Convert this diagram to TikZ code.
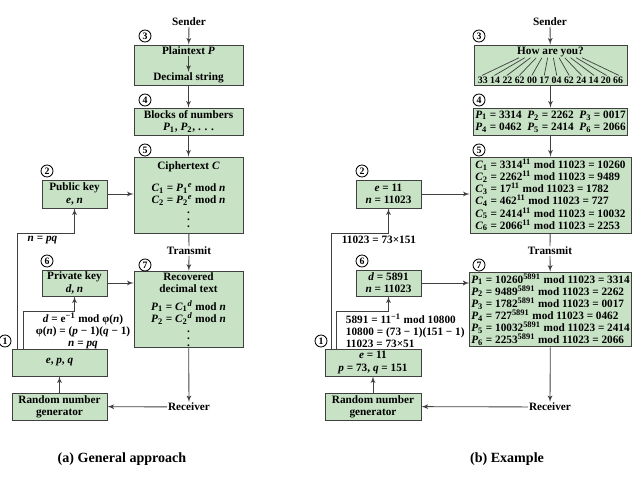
\documentclass[tikz,border=0pt]{standalone}
\usepackage{fontspec}
\setmainfont{Liberation Serif}
\usetikzlibrary{arrows, positioning, calc}
\definecolor{keygreen}{RGB}{199,226,197}
\definecolor{edge}{RGB}{64,64,64}
\newcommand{\vb}[1]{\textit{#1}}
\newcommand{\ix}[1]{\textsubscript{#1}}
\newcommand{\px}[1]{\textsuperscript{#1}}
\newcommand{\dotcol}{\vtop{\baselineskip=5pt\lineskiplimit=0pt\hbox{.}\hbox{.}\hbox{.}}}

\begin{document}
\begin{tikzpicture}[font=\fontsize{8}{8.6}\selectfont\bfseries]
\tikzstyle{block} = [rectangle, draw=edge, line width=0.7pt, fill=keygreen, text=black,
    align=center, inner sep=1pt]
\tikzstyle{line} = [draw=edge, line width=0.6pt, -latex']
\tikzstyle{num} = [circle, draw=black, line width=0.6pt, inner sep=0pt, minimum size=0.3cm,
    font=\fontsize{7}{7}\selectfont\bfseries]
\tikzstyle{lbl} = [inner sep=0.5pt]
\tikzstyle{caption} = [font=\fontsize{10}{12}\selectfont\bfseries]
\useasboundingbox (0,0) rectangle (15.95,-11.95);

    % (a) general approach
    \node [lbl] (sendA) at (4.725,-0.55) {Sender};
    \node [block, minimum width=2.725cm, minimum height=1cm] (plainA) at (4.7125,-1.625) {};
    \node [lbl, below=1pt of plainA.north] (plainP) {Plaintext \vb{P}};
    \node [lbl, above=1pt of plainA.south] (decA) {Decimal string};
    \node [block, minimum width=2.725cm, minimum height=0.675cm] (blockA) at (4.7125,-3.0375)
        {Blocks of numbers\\\vb{P}\ix{1}, \vb{P}\ix{2}, . . .};
    \node [block, minimum width=2.725cm, minimum height=1.9cm] (cipherA) at (4.7125,-4.875)
        {Ciphertext \vb{C}\\[7pt]\vb{C}\ix{1} = \vb{P}\ix{1}\px{\vb{e}} mod \vb{n}\\
         \vb{C}\ix{2} = \vb{P}\ix{2}\px{\vb{e}} mod \vb{n}\\[-1.6pt]\dotcol};
    \node [lbl] (transA) at (4.725,-6.275) {Transmit};
    \node [block, minimum width=2.725cm, minimum height=1.825cm] (recovA) at (4.7125,-7.7375)
        {Recovered\\decimal text\\[4pt]\vb{P}\ix{1} = \vb{C}\ix{1}\px{\vb{d}} mod \vb{n}\\
         \vb{P}\ix{2} = \vb{C}\ix{2}\px{\vb{d}} mod \vb{n}\\[-1.6pt]\dotcol};
    \node [lbl] (recvA) at (4.725,-10.175) {Receiver};
    \node [block, minimum width=2.375cm, minimum height=0.675cm] (rngA) at (1.4875,-10.1625)
        {Random number\\generator};
    \node [block, minimum width=2.375cm, minimum height=0.675cm] (epqA) at (1.4875,-9.0625)
        {\vb{e}, \vb{p}, \vb{q}};
    \node [block, minimum width=1.625cm, minimum height=0.7cm] (pubA) at (1.8625,-4.85)
        {Public key\\\vb{e}, \vb{n}};
    \node [block, minimum width=1.625cm, minimum height=0.65cm] (privA) at (1.8625,-7.075)
        {Private key\\\vb{d}, \vb{n}};
    \node [lbl] (pqA) at (1.0625,-6.0) {\vb{n} = \vb{pq}};
    \node [lbl, align=center] (phiA) at (2.075,-8.275)
        {\vb{d} = e\px{−1} mod φ(\vb{n})\\φ(\vb{n}) = (\vb{p} − 1)(\vb{q} − 1)\\\vb{n} = \vb{pq}};

    \node [num] at (3.625,-0.9) {3};
    \node [num] at (3.625,-2.5) {4};
    \node [num] at (3.625,-3.75) {5};
    \node [num] at (3.625,-6.625) {7};
    \node [num] at (1.175,-4.275) {2};
    \node [num] at (1.175,-6.525) {6};
    \node [num] at (0.125,-8.525) {1};

    \path [line] (sendA) -- (plainA);
    \path [line] (plainP) -- (decA);
    \path [line] (plainA) -- (blockA);
    \path [line] (blockA) -- (cipherA);
    \draw [edge, line width=0.6pt] (cipherA) -- (transA);
    \path [line] (transA) -- (recovA);
    \path [line] (recovA) -- (recvA);
    \path [line] (recvA) -- (rngA);
    \path [line] (rngA) -- (epqA);
    \path [line] (pubA.east) -- (pubA.east -| cipherA.west);
    \path [line] (privA.east) -- (privA.east -| recovA.west);
    \path [line] ([xshift=0.15cm]epqA.north west) |- ([yshift=-0.625cm]pubA.south) -- (pubA.south);
    \path [line] ([xshift=0.3cm]epqA.north west) |- ([yshift=-0.375cm]privA.south) -- (privA.south);

    % (b) example
    \node [lbl] (sendB) at (13.75,-0.55) {Sender};
    \node [block, minimum width=3.825cm, minimum height=1cm] (plainB) at (13.7625,-1.625) {};
    \node [lbl, below=1pt of plainB.north] (howB) {How are you?};
    \node [lbl, above=1pt of plainB.south, font=\fontsize{7}{7}\selectfont\bfseries] (digB)
        {33 14 22 62 00 17 04 62 24 14 20 66};
    \foreach \i in {0,...,11}
        \draw [edge, line width=0.5pt] ($(howB.south west)!{(\i+0.5)/12}!(howB.south east)$)
            -- ($(digB.north west)!{(\i*1.25+0.5)/14.75}!(digB.north east)$);
    \node [block, minimum width=3.825cm, minimum height=0.675cm] (blockB) at (13.7625,-3.0375)
        {\vb{P}\ix{1} = 3314\enspace\vb{P}\ix{2} = 2262\enspace\vb{P}\ix{3} = 0017\\
         \vb{P}\ix{4} = 0462\enspace\vb{P}\ix{5} = 2414\enspace\vb{P}\ix{6} = 2066};
    \node [block, align=left, minimum width=4.025cm, minimum height=1.9cm] (cipherB) at (13.7625,-4.875)
        {\vb{C}\ix{1} = 3314\px{11} mod 11023 = 10260\\
         \vb{C}\ix{2} = 2262\px{11} mod 11023 = 9489\\
         \vb{C}\ix{3} = 17\px{11} mod 11023 = 1782\\
         \vb{C}\ix{4} = 462\px{11} mod 11023 = 727\\
         \vb{C}\ix{5} = 2414\px{11} mod 11023 = 10032\\
         \vb{C}\ix{6} = 2066\px{11} mod 11023 = 2253};
    \node [lbl] (transB) at (13.75,-6.275) {Transmit};
    \node [block, align=left, minimum width=4.025cm, minimum height=1.825cm] (recovB) at (13.7625,-7.7375)
        {\vb{P}\ix{1} = 10260\px{5891} mod 11023 = 3314\\
         \vb{P}\ix{2} = 9489\px{5891} mod 11023 = 2262\\
         \vb{P}\ix{3} = 1782\px{5891} mod 11023 = 0017\\
         \vb{P}\ix{4} = 727\px{5891} mod 11023 = 0462\\
         \vb{P}\ix{5} = 10032\px{5891} mod 11023 = 2414\\
         \vb{P}\ix{6} = 2253\px{5891} mod 11023 = 2066};
    \node [lbl] (recvB) at (13.75,-10.175) {Receiver};
    \node [block, minimum width=2.4cm, minimum height=0.675cm] (rngB) at (9.325,-10.1625)
        {Random number\\generator};
    \node [block, minimum width=2.4cm, minimum height=0.675cm] (epqB) at (9.325,-9.0625)
        {\vb{e} = 11\\\vb{p} = 73, \vb{q} = 151};
    \node [block, minimum width=1.625cm, minimum height=0.7cm] (pubB) at (9.7125,-4.85)
        {\vb{e} = 11\\\vb{n} = 11023};
    \node [block, minimum width=1.625cm, minimum height=0.65cm] (privB) at (9.7125,-7.075)
        {\vb{d} = 5891\\\vb{n} = 11023};
    \node [lbl, anchor=west] (pqB) at (8.525,-6.0) {11023 = 73×151};
    \node [lbl, anchor=west, align=left] (phiB) at (8.625,-8.2625)
        {5891 = 11\px{−1} mod 10800\\10800 = (73 − 1)(151 − 1)\\11023 = 73×51};

    \node [num] at (11.975,-0.9) {3};
    \node [num] at (11.975,-2.5) {4};
    \node [num] at (11.975,-3.75) {5};
    \node [num] at (11.975,-6.625) {7};
    \node [num] at (9.05,-4.275) {2};
    \node [num] at (9.05,-6.525) {6};
    \node [num] at (8.025,-8.525) {1};

    \path [line] (sendB) -- (plainB);
    \path [line] (plainB) -- (blockB);
    \path [line] (blockB) -- (cipherB);
    \draw [edge, line width=0.6pt] (cipherB) -- (transB);
    \path [line] (transB) -- (recovB);
    \path [line] (recovB) -- (recvB);
    \path [line] (recvB) -- (rngB);
    \path [line] (rngB) -- (epqB);
    \path [line] (pubB.east) -- (pubB.east -| cipherB.west);
    \path [line] (privB.east) -- (privB.east -| recovB.west);
    \path [line] ([xshift=0.175cm]epqB.north west) |- ([yshift=-0.625cm]pubB.south) -- (pubB.south);
    \path [line] ([xshift=0.3cm]epqB.north west) |- ([yshift=-0.375cm]privB.south) -- (privB.south);

    % captions
    \node [caption] (capA) at (3.05,-11.475) {(a) General approach};
    \node [caption] (capB) at (12.675,-11.475) {(b) Example};

\end{tikzpicture}
\end{document}
